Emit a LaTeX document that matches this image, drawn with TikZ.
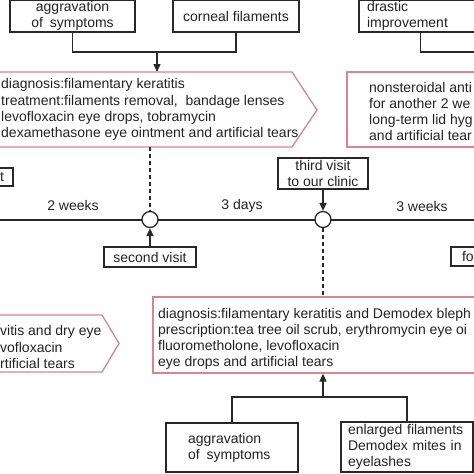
\documentclass[tikz,border=0pt]{standalone}
\usepackage{fontspec}
\setmainfont{Liberation Sans}
\usetikzlibrary{arrows.meta}
\definecolor{pinkc}{RGB}{214,134,142}
\definecolor{linec}{RGB}{40,40,40}
\definecolor{textc}{RGB}{35,35,35}
\begin{document}
\begin{tikzpicture}[x=1pt,y=-1pt,
  txt/.style={font=\fontsize{14}{16.2}\selectfont, text=textc, inner sep=0pt, align=left},
  blkbox/.style={draw=linec, line width=1.3pt, font=\fontsize{14}{16.2}\selectfont, text=textc, inner ysep=0pt},
  pinkrect/.style={draw=pinkc, line width=1.3pt, inner sep=0pt},
  conn/.style={draw=linec, line width=1.3pt},
  arr/.style={draw=linec, line width=1.5pt, -{Triangle[length=8pt,width=7pt]}},
  dashline/.style={draw=linec, line width=1.3pt, dash pattern=on 4pt off 3pt},
  visit/.style={circle, draw=linec, fill=white, line width=1.3pt, minimum size=16pt, inner sep=0pt},
  period/.style={font=\fontsize{14}{16.2}\selectfont, text=textc, inner sep=0pt}
]
\useasboundingbox (0,0) rectangle (474,474);
\clip (0,0) rectangle (474,474);
\fill[white] (0,0) rectangle (474,474);

% ---------- top row boxes ----------
\node[blkbox, minimum width=125pt, minimum height=31.5pt, align=center] (a1) at (72.5,16.25) {aggravation\\of\enspace symptoms};
\node[blkbox, minimum width=126pt, minimum height=31.5pt, align=center] (a2) at (236,16.25) {corneal filaments};
\node[blkbox, minimum height=31.5pt, inner xsep=8pt, text width=140pt, align=left] (dr) at (437,16.25) {drastic\\improvement};

\coordinate (j1) at (157,52);
\coordinate (p1top) at (157,72);
\coordinate (p1bot) at (150,147);
\coordinate (dright) at (480,52);
\draw[conn] (a1.south) |- (j1) -| (a2.south);
\draw[arr] (j1) -- (p1top);
\draw[conn] ([xshift=62pt]dr.south west) |- (dright);

% ---------- first pentagon ----------
\draw[draw=pinkc, line width=1.3pt] (-5,72) -- (292,72) -- (317,110) -- (292,147) -- (-5,147);
\node[txt, anchor=west] (p1t) at (1,109.5) {diagnosis:filamentary keratitis\\treatment:filaments removal,\ \ bandage lenses\\levofloxacin eye drops, tobramycin\\dexamethasone eye ointment and artificial tears};

% ---------- right upper box ----------
\node[pinkrect, minimum width=173pt, minimum height=75pt] (r1) at (433.5,109.5) {};
\node[txt, anchor=west] (r1t) at (369,111.5) {nonsteroidal anti\\for another 2 we\\long-term lid hyg\\and artificial tear};

% ---------- timeline ----------
\coordinate (tl) at (-5,220);
\coordinate (tr) at (480,220);
\draw[draw=linec, line width=2pt] (tl) -- (tr);
\node[visit] (c1) at (150,219.5) {};
\node[visit] (c2) at (323,219.5) {};
\draw[dashline] (p1bot) -- (c1.north);

\node[period] (w2) at (73,205) {2 weeks};
\node[period] (d3) at (242,206) {3 days};
\node[period] (w3) at (422,206) {3 weeks};

\node[blkbox, minimum width=53pt, minimum height=18pt, inner xsep=9pt, text width=35pt, align=right] (v1) at (-13.5,177) {t};
\node[blkbox, minimum width=92pt, minimum height=20pt] (v2) at (150,257) {second visit};
\node[blkbox, minimum width=90pt, minimum height=31pt, align=center] (v3) at (323,173.5) {third visit\\to our clinic};
\node[blkbox, minimum height=19pt, inner xsep=11pt, text width=30pt, align=left] (v4) at (477,256.5) {fo};
\draw[arr] (v2.north) -- (c1.south);
\draw[arr] (v3.south) -- (c2.north);

% ---------- lower left pentagon ----------
\draw[draw=pinkc, line width=1.3pt] (-5,315) -- (102,315) -- (119,343.5) -- (102,372) -- (-5,372);
\node[txt, anchor=west] (p2t) at (0,347) {vitis and dry eye\\vofloxacin\\rtificial tears};

% ---------- lower box ----------
\node[pinkrect, minimum width=367pt, minimum height=76pt] (b) at (336.5,335) {};
\node[txt, anchor=west] (bt) at (158,339) {diagnosis:filamentary keratitis and Demodex bleph\\prescription:tea tree oil scrub, erythromycin eye oi\\fluorometholone, levofloxacin\\eye drops and artificial tears};
\draw[dashline] (c2.south) -- (c2.south |- b.north);

% ---------- bottom boxes ----------
\node[blkbox, minimum width=132pt, minimum height=49pt, inner xsep=22pt, text width=88pt, align=left] (l1) at (232,447.5) {aggravation\\of\enspace symptoms};
\node[blkbox, minimum width=132pt, minimum height=50pt, inner xsep=7pt, text width=118pt, align=left] (l2) at (407,447) {enlarged filaments\\Demodex mites in\\eyelashes};
\coordinate (j2) at (323,397);
\draw[conn] (l1.north) |- (j2) -| (l2.north);
\draw[arr] (j2) -- (j2 |- b.south);
\end{tikzpicture}
\end{document}
